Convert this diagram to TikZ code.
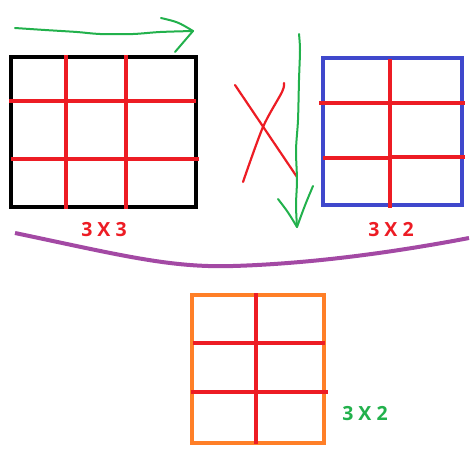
\documentclass[tikz,border=0pt]{standalone}
\usepackage{fontspec}
\setmainfont{Open Sans}
\definecolor{pred}{HTML}{ED1C24}
\definecolor{pgreen}{HTML}{22B14C}
\definecolor{pblue}{HTML}{3F48CC}
\definecolor{porange}{HTML}{FF7F27}
\definecolor{ppurple}{HTML}{A349A4}
\tikzset{
  frame/.style={line width=4pt},
  gridline/.style={pred, line width=3.2pt},
  stroke/.style={line width=2pt, line cap=round, line join=round},
  lbl/.style={font=\bfseries\fontsize{19.5}{22}\selectfont, inner sep=0pt}
}
\begin{document}
\begin{tikzpicture}[x=1pt,y=-1pt]
\useasboundingbox[fill=white] (0,0) rectangle (474,458);
% black 3x3 grid
\draw[frame, black] (11,57) rectangle (196,207);
\draw[gridline] (66,55) -- (66,209);
\draw[gridline] (126,55) -- (126,209);
\draw[gridline] (9,101) -- (196,101);
\draw[gridline] (11,159) -- (199,159);
\node[lbl, text=pred] (l33) at (104,230) {3 X 3};
% green right arrow
\draw[stroke, pgreen] plot[smooth] coordinates {(15,28) (45,30) (77,32) (100,34) (133,34) (160,32) (193,31)};
\draw[stroke, pgreen] (161,18) .. controls (178,22) .. (193,31) -- (175,52);
% blue 3x2 grid
\draw[frame, pblue] (323,58) rectangle (462,205);
\draw[gridline] (390,59) -- (390,208);
\draw[gridline] (319,103) -- (465,103);
\draw[gridline] (323,158) -- (390,158);
\draw[gridline] (390,157) -- (465,157);
\node[lbl, text=pred] (l32) at (391,230) {3 X 2};
% red cross
\draw[stroke, pred, line width=2.2pt] (235,85) -- (297,177);
\draw[stroke, pred, line width=2.2pt] plot[smooth] coordinates {(284,83) (282,92) (263,127) (243,182)};
% green down arrow
\draw[stroke, pgreen] plot[smooth] coordinates {(299,34) (300,50) (299,80) (298,120) (296,150) (297,180) (296,205) (297,227)};
\draw[stroke, pgreen] (278,199) .. controls (288,212) .. (297,227) .. controls (305,205) .. (313,186);
% purple brace curve
\draw[ppurple, line width=4pt] (15,233) .. controls (120,255) and (170,268) .. (233,266) .. controls (300,264) and (380,255) .. (469,238);
% orange 3x2 grid
\draw[frame, porange] (192,295) rectangle (324,443);
\draw[gridline] (256,293) -- (256,444);
\draw[gridline] (193,343) -- (325,343);
\draw[gridline] (191,392) -- (328,392);
\node[lbl, text=pgreen] (g32) at (365,414) {3 X 2};
\end{tikzpicture}
\end{document}
